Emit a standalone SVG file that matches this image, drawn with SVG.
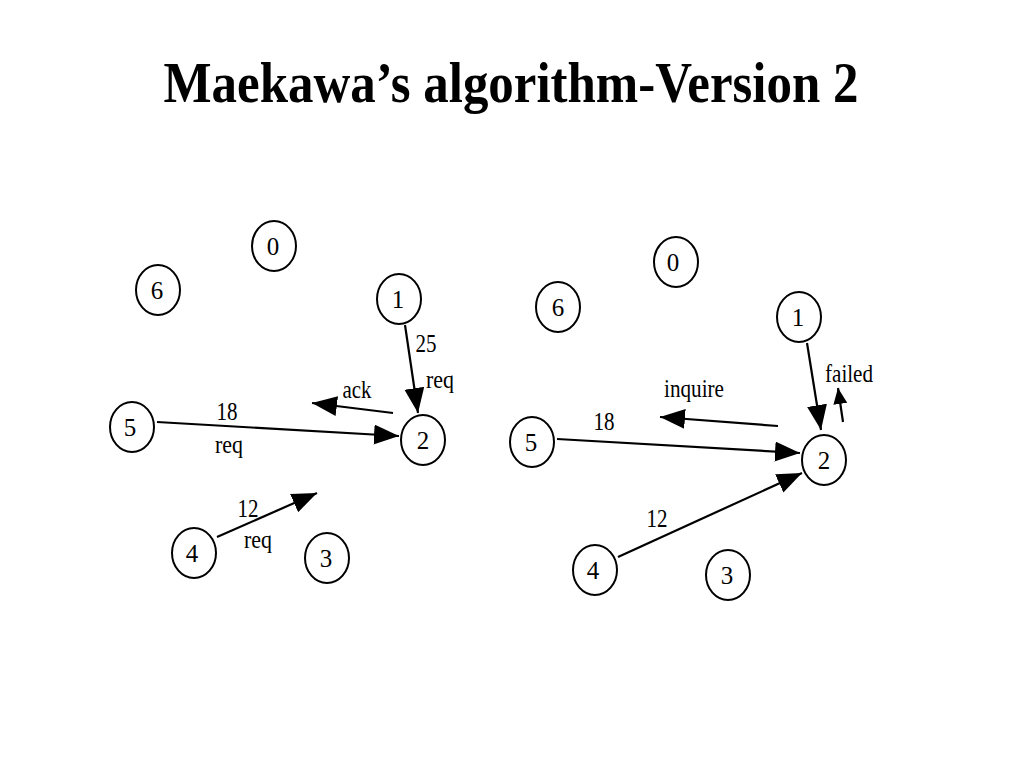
<svg xmlns="http://www.w3.org/2000/svg" width="1024" height="768" viewBox="0 0 1024 768">
<style>
.n ellipse{fill:#fff;stroke:#000;stroke-width:2}
.n text{font-family:"Liberation Serif","Times New Roman",serif;font-size:25px;text-anchor:middle;fill:#000}
.lbl{font-family:"Liberation Serif","Times New Roman",serif;font-size:25px;fill:#000;text-anchor:middle}
.e{stroke:#000;stroke-width:2.2;fill:none;marker-end:url(#ah)}
.es{stroke:#000;stroke-width:2.2;fill:none;marker-end:url(#ahs)}
</style>
<defs>
<marker id="ah" markerUnits="userSpaceOnUse" markerWidth="26" markerHeight="22" refX="25" refY="10" orient="auto">
<path d="M0,0 L25,10 L0,20 z" fill="#000"/>
</marker>
<marker id="ahs" markerUnits="userSpaceOnUse" markerWidth="18" markerHeight="16" refX="16" refY="7" orient="auto">
<path d="M0,0 L16,7 L0,14 z" fill="#000"/>
</marker>
</defs>
<rect width="1024" height="768" fill="#fff"/>
<text x="511" y="102" font-family="Liberation Serif,'Times New Roman',serif" font-size="56" font-weight="bold" text-anchor="middle" textLength="695" lengthAdjust="spacingAndGlyphs">Maekawa’s algorithm-Version 2</text>

<g id="connectors">
<line class="e" x1="405" y1="325" x2="418" y2="413"/>
<line class="e" x1="393" y1="413" x2="312" y2="403"/>
<line class="e" x1="157" y1="422" x2="399" y2="436"/>
<line class="e" x1="217" y1="537" x2="317" y2="493"/>
<line class="e" x1="807" y1="343" x2="821" y2="430"/>
<line class="es" x1="843" y1="422" x2="838" y2="388"/>
<line class="e" x1="778" y1="426" x2="660" y2="417"/>
<line class="e" x1="557" y1="439" x2="800" y2="453"/>
<line class="e" x1="618" y1="557" x2="802" y2="473"/>
</g>

<g id="labels">
<text class="lbl" x="426" y="352" textLength="21" lengthAdjust="spacingAndGlyphs">25</text>
<text class="lbl" x="440" y="388" textLength="28" lengthAdjust="spacingAndGlyphs">req</text>
<text class="lbl" x="357" y="398" textLength="29" lengthAdjust="spacingAndGlyphs">ack</text>
<text class="lbl" x="227" y="420" textLength="21" lengthAdjust="spacingAndGlyphs">18</text>
<text class="lbl" x="229" y="453" textLength="28" lengthAdjust="spacingAndGlyphs">req</text>
<text class="lbl" x="248" y="517" textLength="21" lengthAdjust="spacingAndGlyphs">12</text>
<text class="lbl" x="258" y="548" textLength="28" lengthAdjust="spacingAndGlyphs">req</text>
<text class="lbl" x="849" y="382" textLength="48" lengthAdjust="spacingAndGlyphs">failed</text>
<text class="lbl" x="694" y="397" textLength="60" lengthAdjust="spacingAndGlyphs">inquire</text>
<text class="lbl" x="604" y="430" textLength="21" lengthAdjust="spacingAndGlyphs">18</text>
<text class="lbl" x="657" y="527" textLength="21" lengthAdjust="spacingAndGlyphs">12</text>
</g>

<g id="L0" class="n"><ellipse cx="274" cy="246" rx="22" ry="25"/><text x="273" y="255">0</text></g>
<g id="L6" class="n"><ellipse cx="158" cy="290" rx="22" ry="25"/><text x="157" y="299">6</text></g>
<g id="L1" class="n"><ellipse cx="399" cy="299" rx="22" ry="25"/><text x="398" y="308">1</text></g>
<g id="L5" class="n"><ellipse cx="132" cy="427" rx="22" ry="25"/><text x="130" y="436">5</text></g>
<g id="L2" class="n"><ellipse cx="423" cy="440" rx="22" ry="25"/><text x="423" y="449">2</text></g>
<g id="L4" class="n"><ellipse cx="194" cy="553" rx="22" ry="25"/><text x="192" y="562">4</text></g>
<g id="L3" class="n"><ellipse cx="327" cy="558" rx="22" ry="25"/><text x="326" y="567">3</text></g>

<g id="R0" class="n"><ellipse cx="676" cy="262" rx="22" ry="25"/><text x="673" y="271">0</text></g>
<g id="R6" class="n"><ellipse cx="558" cy="307" rx="22" ry="25"/><text x="558" y="316">6</text></g>
<g id="R1" class="n"><ellipse cx="799" cy="317" rx="22" ry="25"/><text x="798" y="326">1</text></g>
<g id="R5" class="n"><ellipse cx="532" cy="442" rx="22" ry="25"/><text x="531" y="451">5</text></g>
<g id="R2" class="n"><ellipse cx="824" cy="460" rx="22" ry="25"/><text x="824" y="469">2</text></g>
<g id="R4" class="n"><ellipse cx="595" cy="570" rx="22" ry="25"/><text x="593" y="579">4</text></g>
<g id="R3" class="n"><ellipse cx="728" cy="575" rx="22" ry="25"/><text x="727" y="584">3</text></g>
</svg>
